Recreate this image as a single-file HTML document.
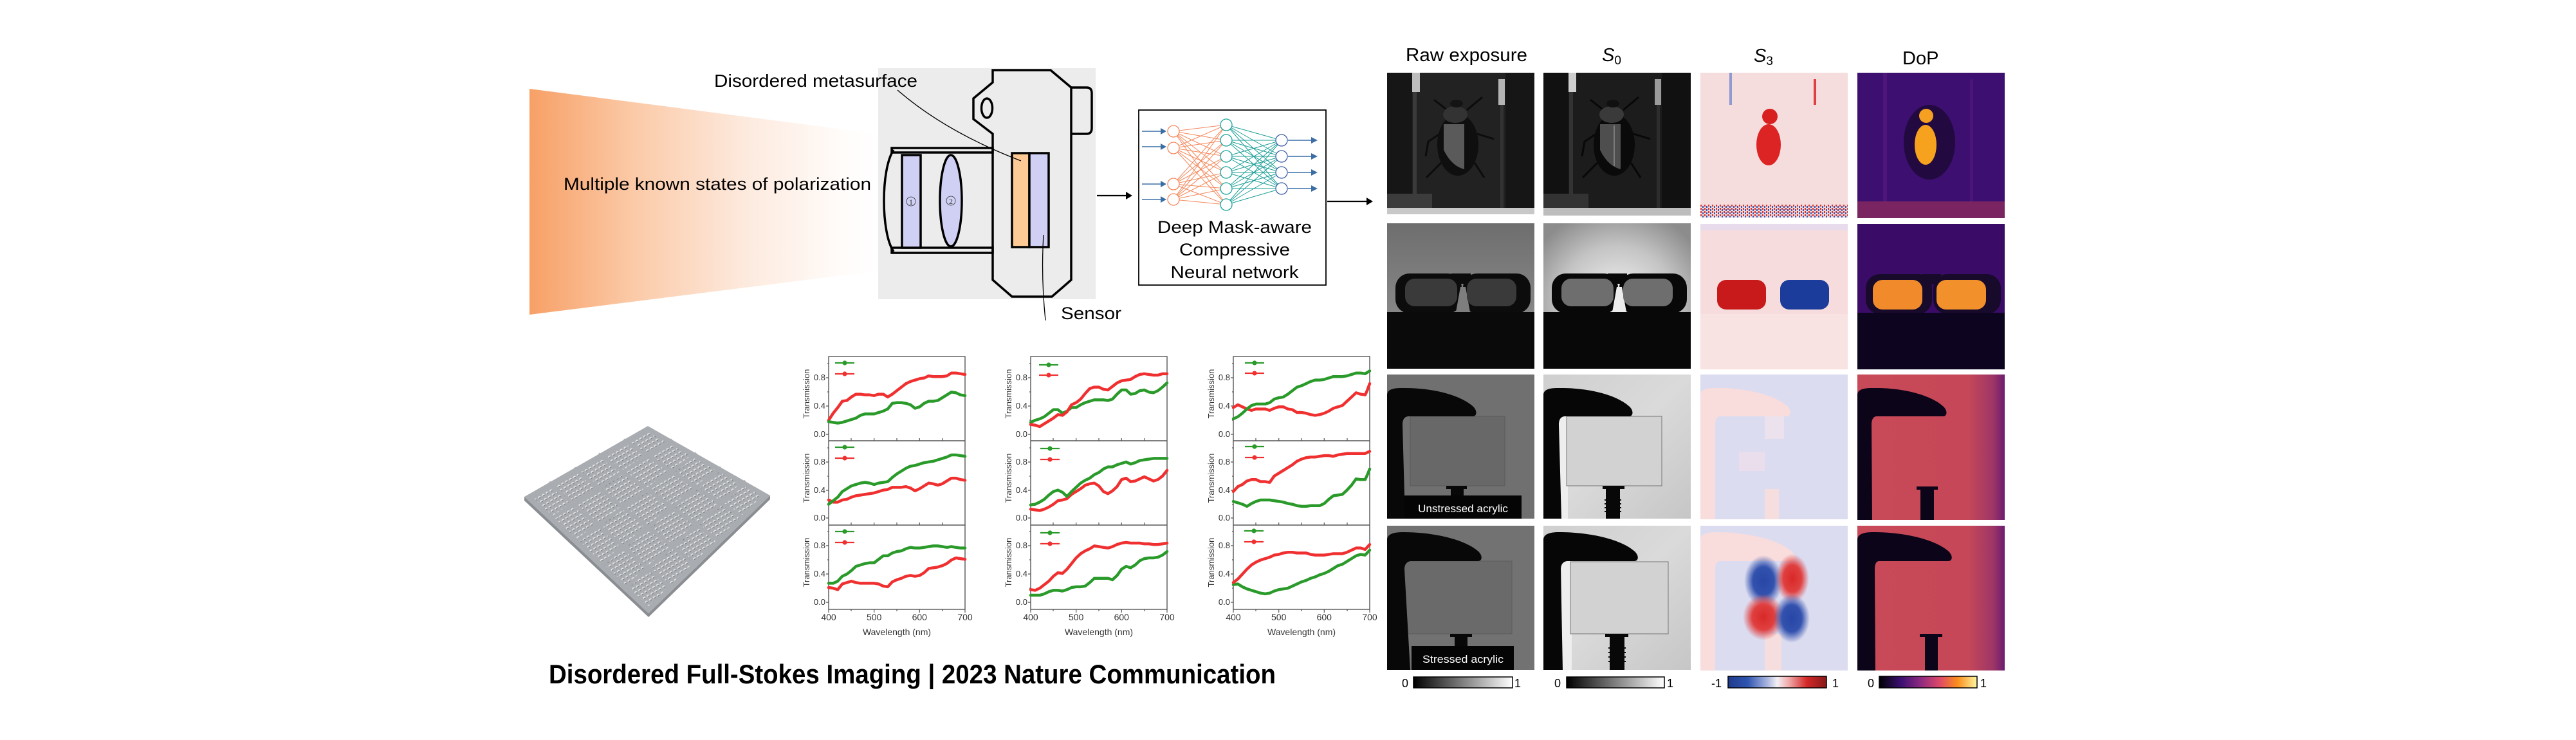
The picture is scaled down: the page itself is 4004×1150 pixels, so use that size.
<!DOCTYPE html>
<html><head><meta charset="utf-8"><style>
html,body{margin:0;padding:0;background:#fff;width:4004px;height:1150px;overflow:hidden}
svg{display:block}
</style></head><body>
<svg width="4004" height="1150" viewBox="0 0 4004 1150" xmlns="http://www.w3.org/2000/svg" font-family="'Liberation Sans', Arial, sans-serif">
<defs>
<linearGradient id="beam" x1="823" y1="0" x2="1365" y2="0" gradientUnits="userSpaceOnUse">
<stop offset="0" stop-color="#f7a066"/><stop offset="0.3" stop-color="#fbcaa8"/><stop offset="0.62" stop-color="#fdeade"/><stop offset="0.9" stop-color="#fffcfa"/><stop offset="1" stop-color="#ffffff"/>
</linearGradient>
<linearGradient id="gray" x1="0" x2="1"><stop offset="0" stop-color="#000"/><stop offset="1" stop-color="#fff"/></linearGradient>
<linearGradient id="bwr" x1="0" x2="1"><stop offset="0" stop-color="#1f3a8c"/><stop offset="0.2" stop-color="#2f55b0"/><stop offset="0.4" stop-color="#aab6e0"/><stop offset="0.5" stop-color="#f4f0f4"/><stop offset="0.62" stop-color="#f0a8a8"/><stop offset="0.8" stop-color="#d42828"/><stop offset="1" stop-color="#861a1a"/></linearGradient>
<linearGradient id="inferno" x1="0" x2="1"><stop offset="0" stop-color="#000004"/><stop offset="0.22" stop-color="#3b0f70"/><stop offset="0.42" stop-color="#8c2981"/><stop offset="0.62" stop-color="#de4968"/><stop offset="0.8" stop-color="#fb8d1c"/><stop offset="1" stop-color="#fcf6a0"/></linearGradient>
<pattern id="dots" width="7" height="7" patternUnits="userSpaceOnUse" patternTransform="rotate(-30)">
<rect width="7" height="7" fill="#a9acb0"/><ellipse cx="3.5" cy="3.3" rx="2.3" ry="1.5" fill="#e4e4e4"/><ellipse cx="3.9" cy="4.4" rx="1.7" ry="0.8" fill="#7c7f83"/>
</pattern>
<pattern id="noiseband" width="6" height="5" patternUnits="userSpaceOnUse">
<rect width="6" height="5" fill="#f1d6d6"/><rect x="0" y="0" width="2" height="3" fill="#d33"/><rect x="3" y="2" width="2" height="3" fill="#3957b5"/>
</pattern>
<radialGradient id="s0glow" cx="115" cy="125" r="150" gradientUnits="userSpaceOnUse"><stop offset="0" stop-color="#f6f6f6"/><stop offset="0.6" stop-color="#c4c4c4"/><stop offset="1" stop-color="#8c8c8c"/></radialGradient>
<linearGradient id="rawg2" x1="0" y1="0" x2="0" y2="1"><stop offset="0" stop-color="#6e6e6e"/><stop offset="0.7" stop-color="#8a8a8a"/><stop offset="1" stop-color="#7a7a7a"/></linearGradient>
<linearGradient id="dopbg" x1="0" y1="0" x2="1" y2="0"><stop offset="0" stop-color="#c84a58"/><stop offset="0.75" stop-color="#c64858"/><stop offset="0.92" stop-color="#9e3666"/><stop offset="1" stop-color="#6c1c70"/></linearGradient>
<linearGradient id="s0bg" x1="0" y1="0" x2="1" y2="1"><stop offset="0" stop-color="#cfcfcf"/><stop offset="0.5" stop-color="#dadada"/><stop offset="1" stop-color="#c6c6c6"/></linearGradient>
<radialGradient id="blob_b"><stop offset="0" stop-color="#2846a6"/><stop offset="0.55" stop-color="#3352ae"/><stop offset="1" stop-color="#3352ae" stop-opacity="0"/></radialGradient>
<radialGradient id="blob_r"><stop offset="0" stop-color="#d82828"/><stop offset="0.55" stop-color="#e04040"/><stop offset="1" stop-color="#e04040" stop-opacity="0"/></radialGradient>
</defs>

<!-- ======= Camera illustration ======= -->
<polygon points="823,138 1365,208 1365,421 823,489" fill="url(#beam)"/>
<rect x="1365" y="106" width="338" height="359" fill="#ececec"/>
<text x="876" y="295" font-size="27" textLength="478" lengthAdjust="spacingAndGlyphs" fill="#000">Multiple known states of polarization</text>
<text x="1110" y="135" font-size="28" textLength="316" lengthAdjust="spacingAndGlyphs" fill="#000">Disordered metasurface</text>
<text x="1649" y="496" font-size="27" textLength="94" lengthAdjust="spacingAndGlyphs" fill="#000">Sensor</text>
<g stroke="#000" stroke-width="3.5" fill="none" stroke-linejoin="miter">
<path d="M1543,109 L1633,109 L1665,136 L1665,435 L1635,461 L1573,461 L1543,435 L1543,208 L1513,185 L1513,153 L1543,128 Z"/>
<ellipse cx="1534" cy="168" rx="8.5" ry="15"/>
<path d="M1665,136 L1689,136 Q1697,136 1697,145 L1697,199 Q1697,208 1689,208 L1665,208"/>
<rect x="1386" y="230" width="157" height="7"/>
<rect x="1386" y="385" width="157" height="8"/>
<path d="M1389,233 C1369,262 1369,362 1389,391"/>
<rect x="1402" y="241" width="29" height="144" fill="#cfd0f4"/>
<ellipse cx="1478" cy="312" rx="17" ry="71" fill="#cfd0f4"/>
<rect x="1573" y="238" width="27" height="146" fill="#fdca95"/>
<rect x="1600" y="238" width="30" height="146" fill="#cfd0f4"/>
</g>
<g stroke="#333" stroke-width="0.8" fill="none"><circle cx="1416" cy="313" r="7"/><circle cx="1478" cy="312" r="7"/></g>
<text x="1416" y="318" font-size="12" text-anchor="middle" font-family="'Liberation Serif',serif" fill="#333">1</text>
<text x="1478" y="317" font-size="12" text-anchor="middle" font-family="'Liberation Serif',serif" fill="#333">2</text>
<path d="M1395,140 Q1470,205 1587,250" stroke="#000" stroke-width="1.3" fill="none"/>
<path d="M1622,365 Q1618,430 1625,498" stroke="#000" stroke-width="1.3" fill="none"/>
<line x1="1705" y1="304" x2="1752" y2="304" stroke="#000" stroke-width="2.2"/>
<polygon points="1750,298 1760,304 1750,310" fill="#000"/>

<!-- ======= Neural network box ======= -->
<rect x="1770" y="171" width="291" height="272" fill="#fff" stroke="#000" stroke-width="1.8"/>
<g stroke="#f4875a" stroke-width="1">
<line x1="1824" y1="204" x2="1906" y2="194"/><line x1="1824" y1="204" x2="1906" y2="218"/><line x1="1824" y1="204" x2="1906" y2="243"/><line x1="1824" y1="204" x2="1906" y2="268"/><line x1="1824" y1="204" x2="1906" y2="293"/><line x1="1824" y1="204" x2="1906" y2="318"/>
<line x1="1824" y1="230" x2="1906" y2="194"/><line x1="1824" y1="230" x2="1906" y2="218"/><line x1="1824" y1="230" x2="1906" y2="243"/><line x1="1824" y1="230" x2="1906" y2="268"/><line x1="1824" y1="230" x2="1906" y2="293"/><line x1="1824" y1="230" x2="1906" y2="318"/>
<line x1="1824" y1="286" x2="1906" y2="194"/><line x1="1824" y1="286" x2="1906" y2="218"/><line x1="1824" y1="286" x2="1906" y2="243"/><line x1="1824" y1="286" x2="1906" y2="268"/><line x1="1824" y1="286" x2="1906" y2="293"/><line x1="1824" y1="286" x2="1906" y2="318"/>
<line x1="1824" y1="310" x2="1906" y2="194"/><line x1="1824" y1="310" x2="1906" y2="218"/><line x1="1824" y1="310" x2="1906" y2="243"/><line x1="1824" y1="310" x2="1906" y2="268"/><line x1="1824" y1="310" x2="1906" y2="293"/><line x1="1824" y1="310" x2="1906" y2="318"/>
</g>
<g stroke="#1a9e96" stroke-width="1">
<line x1="1906" y1="194" x2="1992" y2="218"/><line x1="1906" y1="194" x2="1992" y2="243"/><line x1="1906" y1="194" x2="1992" y2="268"/><line x1="1906" y1="194" x2="1992" y2="293"/>
<line x1="1906" y1="218" x2="1992" y2="218"/><line x1="1906" y1="218" x2="1992" y2="243"/><line x1="1906" y1="218" x2="1992" y2="268"/><line x1="1906" y1="218" x2="1992" y2="293"/>
<line x1="1906" y1="243" x2="1992" y2="218"/><line x1="1906" y1="243" x2="1992" y2="243"/><line x1="1906" y1="243" x2="1992" y2="268"/><line x1="1906" y1="243" x2="1992" y2="293"/>
<line x1="1906" y1="268" x2="1992" y2="218"/><line x1="1906" y1="268" x2="1992" y2="243"/><line x1="1906" y1="268" x2="1992" y2="268"/><line x1="1906" y1="268" x2="1992" y2="293"/>
<line x1="1906" y1="293" x2="1992" y2="218"/><line x1="1906" y1="293" x2="1992" y2="243"/><line x1="1906" y1="293" x2="1992" y2="268"/><line x1="1906" y1="293" x2="1992" y2="293"/>
<line x1="1906" y1="318" x2="1992" y2="218"/><line x1="1906" y1="318" x2="1992" y2="243"/><line x1="1906" y1="318" x2="1992" y2="268"/><line x1="1906" y1="318" x2="1992" y2="293"/>
</g>
<g fill="#fff" stroke-width="1.3">
<g stroke="#f4875a"><circle cx="1824" cy="204" r="9"/><circle cx="1824" cy="230" r="9"/><circle cx="1824" cy="286" r="9"/><circle cx="1824" cy="310" r="9"/></g>
<g stroke="#1aa39a"><circle cx="1906" cy="194" r="9"/><circle cx="1906" cy="218" r="9"/><circle cx="1906" cy="243" r="9"/><circle cx="1906" cy="268" r="9"/><circle cx="1906" cy="293" r="9"/><circle cx="1906" cy="318" r="9"/></g>
<g stroke="#3b5fa5"><circle cx="1992" cy="218" r="9"/><circle cx="1992" cy="243" r="9"/><circle cx="1992" cy="268" r="9"/><circle cx="1992" cy="293" r="9"/></g>
</g>
<g stroke="#3a6ea5" stroke-width="1.6">
<line x1="1775" y1="204" x2="1806" y2="204"/><line x1="1775" y1="228" x2="1806" y2="228"/><line x1="1775" y1="286" x2="1806" y2="286"/><line x1="1775" y1="310" x2="1806" y2="310"/>
<line x1="2002" y1="218" x2="2040" y2="218"/><line x1="2002" y1="243" x2="2040" y2="243"/><line x1="2002" y1="268" x2="2040" y2="268"/><line x1="2002" y1="293" x2="2040" y2="293"/>
</g>
<g fill="#3a6ea5">
<polygon points="1804,199 1813,204 1804,209"/><polygon points="1804,223 1813,228 1804,233"/><polygon points="1804,281 1813,286 1804,291"/><polygon points="1804,305 1813,310 1804,315"/>
<polygon points="2038,213 2048,218 2038,223"/><polygon points="2038,238 2048,243 2038,248"/><polygon points="2038,263 2048,268 2038,273"/><polygon points="2038,288 2048,293 2038,298"/>
</g>
<g font-size="27" fill="#000" text-anchor="middle">
<text x="1919" y="362" textLength="240" lengthAdjust="spacingAndGlyphs">Deep Mask-aware</text>
<text x="1919" y="397" textLength="172" lengthAdjust="spacingAndGlyphs">Compressive</text>
<text x="1919" y="432" textLength="199" lengthAdjust="spacingAndGlyphs">Neural network</text>
</g>
<line x1="2063" y1="313" x2="2126" y2="313" stroke="#000" stroke-width="2.2"/>
<polygon points="2124,307 2134,313 2124,319" fill="#000"/>

<!-- ======= Metasurface ======= -->
<polygon points="815,772 1008,953 1197,770 1197,776 1008,959 815,778" fill="#8a8d91"/>
<polygon points="815,772 1007,662 1197,770 1008,953" fill="#a9acb0"/>
<polygon points="828,773 1007,671 1184,771 1008,942" fill="url(#dots)"/>
<g stroke="#a9acb0" stroke-width="6">
<line x1="853" y1="750" x2="1046" y2="916"/><line x1="892" y1="728" x2="1084" y2="880"/><line x1="930" y1="706" x2="1121" y2="843"/><line x1="969" y1="684" x2="1159" y2="807"/>
<line x1="854" y1="808" x2="1045" y2="684"/><line x1="892" y1="844" x2="1083" y2="705"/><line x1="931" y1="881" x2="1121" y2="727"/><line x1="969" y1="917" x2="1159" y2="748"/>
</g>

<!-- ======= Plots ======= -->
<g id="plots" font-size="13" fill="#333">
<g fill="none" stroke="#555" stroke-width="1.4">
<rect x="1288" y="554" width="212" height="393"/><line x1="1288" y1="685" x2="1500" y2="685"/><line x1="1288" y1="816" x2="1500" y2="816"/>
<rect x="1602" y="554" width="212" height="393"/><line x1="1602" y1="685" x2="1814" y2="685"/><line x1="1602" y1="816" x2="1814" y2="816"/>
<rect x="1917" y="554" width="212" height="393"/><line x1="1917" y1="685" x2="2129" y2="685"/><line x1="1917" y1="816" x2="2129" y2="816"/>
</g>
<g stroke="#555" stroke-width="1.2">
<path d="M1284,675H1288M1284,631H1288M1284,587H1288M1286,653H1288M1286,609H1288M1286,565H1288M1284,805H1288M1284,762H1288M1284,718H1288M1286,784H1288M1286,740H1288M1286,696H1288M1284,936H1288M1284,892H1288M1284,848H1288M1286,914H1288M1286,870H1288M1286,826H1288"/>
<path d="M1598,675H1602M1598,631H1602M1598,587H1602M1600,653H1602M1600,609H1602M1600,565H1602M1598,805H1602M1598,762H1602M1598,718H1602M1600,784H1602M1600,740H1602M1600,696H1602M1598,936H1602M1598,892H1602M1598,848H1602M1600,914H1602M1600,870H1602M1600,826H1602"/>
<path d="M1913,675H1917M1913,631H1917M1913,587H1917M1915,653H1917M1915,609H1917M1915,565H1917M1913,805H1917M1913,762H1917M1913,718H1917M1915,784H1917M1915,740H1917M1915,696H1917M1913,936H1917M1913,892H1917M1913,848H1917M1915,914H1917M1915,870H1917M1915,826H1917"/>
<path d="M1288,947V952M1358.7,947V952M1429.3,947V952M1500,947V952M1323,947V950M1394,947V950M1465,947V950M1323,685V681M1358.7,685V681M1394,685V681M1429.3,685V681M1465,685V681M1323,816V812M1358.7,816V812M1394,816V812M1429.3,816V812M1465,816V812"/>
<path d="M1602,947V952M1672.7,947V952M1743.3,947V952M1814,947V952M1637,947V950M1708,947V950M1779,947V950M1637,685V681M1672.7,685V681M1708,685V681M1743.3,685V681M1779,685V681M1637,816V812M1672.7,816V812M1708,816V812M1743.3,816V812M1779,816V812"/>
<path d="M1917,947V952M1987.7,947V952M2058.3,947V952M2129,947V952M1952,947V950M2023,947V950M2094,947V950M1952,685V681M1987.7,685V681M2023,685V681M2058.3,685V681M2094,685V681M1952,816V812M1987.7,816V812M2023,816V812M2058.3,816V812M2094,816V812"/>
</g>
<g text-anchor="end">
<text x="1283" y="679">0.0</text><text x="1283" y="635">0.4</text><text x="1283" y="591">0.8</text>
<text x="1283" y="809">0.0</text><text x="1283" y="766">0.4</text><text x="1283" y="722">0.8</text>
<text x="1283" y="940">0.0</text><text x="1283" y="896">0.4</text><text x="1283" y="852">0.8</text>
<text x="1597" y="679">0.0</text><text x="1597" y="635">0.4</text><text x="1597" y="591">0.8</text>
<text x="1597" y="809">0.0</text><text x="1597" y="766">0.4</text><text x="1597" y="722">0.8</text>
<text x="1597" y="940">0.0</text><text x="1597" y="896">0.4</text><text x="1597" y="852">0.8</text>
<text x="1912" y="679">0.0</text><text x="1912" y="635">0.4</text><text x="1912" y="591">0.8</text>
<text x="1912" y="809">0.0</text><text x="1912" y="766">0.4</text><text x="1912" y="722">0.8</text>
<text x="1912" y="940">0.0</text><text x="1912" y="896">0.4</text><text x="1912" y="852">0.8</text>
</g>
<g text-anchor="middle">
<text transform="translate(1258,612) rotate(-90)">Transmission</text><text transform="translate(1258,743) rotate(-90)">Transmission</text><text transform="translate(1258,874) rotate(-90)">Transmission</text>
<text transform="translate(1572,612) rotate(-90)">Transmission</text><text transform="translate(1572,743) rotate(-90)">Transmission</text><text transform="translate(1572,874) rotate(-90)">Transmission</text>
<text transform="translate(1887,612) rotate(-90)">Transmission</text><text transform="translate(1887,743) rotate(-90)">Transmission</text><text transform="translate(1887,874) rotate(-90)">Transmission</text>
</g>
<g text-anchor="middle" font-size="14">
<text x="1288" y="964">400</text><text x="1358.7" y="964">500</text><text x="1429.3" y="964">600</text><text x="1500" y="964">700</text>
<text x="1602" y="964">400</text><text x="1672.7" y="964">500</text><text x="1743.3" y="964">600</text><text x="1814" y="964">700</text>
<text x="1917" y="964">400</text><text x="1987.7" y="964">500</text><text x="2058.3" y="964">600</text><text x="2129" y="964">700</text>
<text x="1394" y="987">Wavelength (nm)</text><text x="1708" y="987">Wavelength (nm)</text><text x="2023" y="987">Wavelength (nm)</text>
</g>
<g stroke-width="2.2">
<line x1="1298" y1="564" x2="1328" y2="564" stroke="#2a9a2a"/><line x1="1298" y1="581" x2="1328" y2="581" stroke="#f03030"/>
<line x1="1298" y1="695" x2="1328" y2="695" stroke="#2a9a2a"/><line x1="1298" y1="712" x2="1328" y2="712" stroke="#f03030"/>
<line x1="1298" y1="826" x2="1328" y2="826" stroke="#2a9a2a"/><line x1="1298" y1="843" x2="1328" y2="843" stroke="#f03030"/>
<line x1="1615" y1="567" x2="1645" y2="567" stroke="#2a9a2a"/><line x1="1615" y1="583" x2="1645" y2="583" stroke="#f03030"/>
<line x1="1617" y1="697" x2="1647" y2="697" stroke="#2a9a2a"/><line x1="1617" y1="714" x2="1647" y2="714" stroke="#f03030"/>
<line x1="1617" y1="828" x2="1647" y2="828" stroke="#2a9a2a"/><line x1="1617" y1="845" x2="1647" y2="845" stroke="#f03030"/>
<line x1="1935" y1="564" x2="1965" y2="564" stroke="#2a9a2a"/><line x1="1935" y1="580" x2="1965" y2="580" stroke="#f03030"/>
<line x1="1935" y1="694" x2="1965" y2="694" stroke="#2a9a2a"/><line x1="1935" y1="711" x2="1965" y2="711" stroke="#f03030"/>
<line x1="1934" y1="825" x2="1964" y2="825" stroke="#2a9a2a"/><line x1="1934" y1="842" x2="1964" y2="842" stroke="#f03030"/>
</g>
<g>
<circle cx="1313" cy="564" r="3.6" fill="#2a9a2a"/><circle cx="1313" cy="581" r="3.6" fill="#f03030"/>
<circle cx="1313" cy="695" r="3.6" fill="#2a9a2a"/><circle cx="1313" cy="712" r="3.6" fill="#f03030"/>
<circle cx="1313" cy="826" r="3.6" fill="#2a9a2a"/><circle cx="1313" cy="843" r="3.6" fill="#f03030"/>
<circle cx="1630" cy="567" r="3.6" fill="#2a9a2a"/><circle cx="1630" cy="583" r="3.6" fill="#f03030"/>
<circle cx="1632" cy="697" r="3.6" fill="#2a9a2a"/><circle cx="1632" cy="714" r="3.6" fill="#f03030"/>
<circle cx="1632" cy="828" r="3.6" fill="#2a9a2a"/><circle cx="1632" cy="845" r="3.6" fill="#f03030"/>
<circle cx="1950" cy="564" r="3.6" fill="#2a9a2a"/><circle cx="1950" cy="580" r="3.6" fill="#f03030"/>
<circle cx="1950" cy="694" r="3.6" fill="#2a9a2a"/><circle cx="1950" cy="711" r="3.6" fill="#f03030"/>
<circle cx="1949" cy="825" r="3.6" fill="#2a9a2a"/><circle cx="1949" cy="842" r="3.6" fill="#f03030"/>
</g>
</g>

<g fill="none" stroke-linejoin="round" stroke-linecap="round">
<g transform="translate(1288,675) scale(0.70667,-109.5)">
<polyline vector-effect="non-scaling-stroke" stroke="#f03030" stroke-width="4.5" points="0,.2 10,.3 20,.38 30,.47 40,.48 50,.53 60,.57 70,.57 80,.56 90,.56 100,.55 110,.57 120,.57 130,.53 140,.57 150,.62 160,.67 170,.72 180,.75 190,.77 200,.79 210,.8 220,.83 230,.82 240,.82 250,.82 260,.83 270,.87 280,.87 290,.86 300,.85"/>
<polyline vector-effect="non-scaling-stroke" stroke="#2a9a2a" stroke-width="4.5" points="0,.18 10,.17 20,.16 30,.17 40,.19 50,.21 60,.23 70,.27 80,.29 90,.29 100,.29 110,.31 120,.33 130,.36 140,.44 150,.45 160,.45 170,.44 180,.42 190,.37 200,.39 210,.44 220,.47 230,.47 240,.48 250,.52 260,.56 270,.6 280,.59 290,.56 300,.55"/>
</g>
<g transform="translate(1288,805.5) scale(0.70667,-109.5)">
<polyline vector-effect="non-scaling-stroke" stroke="#f03030" stroke-width="4.5" points="0,.26 10,.23 20,.23 30,.26 40,.27 50,.3 60,.32 70,.33 80,.34 90,.35 100,.36 110,.38 120,.4 130,.41 140,.44 150,.44 160,.44 170,.45 180,.43 190,.39 200,.42 210,.46 220,.5 230,.49 240,.47 250,.49 260,.53 270,.57 280,.57 290,.55 300,.54"/>
<polyline vector-effect="non-scaling-stroke" stroke="#2a9a2a" stroke-width="4.5" points="0,.2 10,.25 20,.3 30,.38 40,.42 50,.46 60,.48 70,.5 80,.51 90,.5 100,.48 110,.5 120,.51 130,.52 140,.58 150,.63 160,.67 170,.71 180,.74 190,.75 200,.77 210,.79 220,.8 230,.81 240,.83 250,.85 260,.87 270,.9 280,.9 290,.89 300,.88"/>
</g>
<g transform="translate(1288,936) scale(0.70667,-109.5)">
<polyline vector-effect="non-scaling-stroke" stroke="#f03030" stroke-width="4.5" points="0,.21 10,.2 20,.18 30,.26 40,.28 50,.3 60,.28 70,.27 80,.27 90,.27 100,.27 110,.26 120,.23 130,.22 140,.29 150,.32 160,.34 170,.37 180,.38 190,.37 200,.38 210,.42 220,.48 230,.49 240,.5 250,.52 260,.55 270,.6 280,.63 290,.62 300,.61"/>
<polyline vector-effect="non-scaling-stroke" stroke="#2a9a2a" stroke-width="4.5" points="0,.27 10,.27 20,.3 30,.37 40,.4 50,.45 60,.51 70,.53 80,.55 90,.56 100,.56 110,.61 120,.66 130,.66 140,.7 150,.72 160,.73 170,.76 180,.78 190,.77 200,.77 210,.78 220,.79 230,.8 240,.8 250,.79 260,.78 270,.79 280,.78 290,.77 300,.77"/>
</g>
<g transform="translate(1602,675) scale(0.70667,-109.5)">
<polyline vector-effect="non-scaling-stroke" stroke="#2a9a2a" stroke-width="4.5" points="0,.17 10,.2 20,.22 30,.25 40,.3 50,.35 60,.35 70,.3 80,.33 90,.38 100,.38 110,.42 120,.45 130,.47 140,.49 150,.49 160,.49 170,.48 180,.5 190,.57 200,.63 210,.63 220,.57 230,.58 240,.62 250,.63 260,.6 270,.59 280,.62 290,.67 300,.73"/>
<polyline vector-effect="non-scaling-stroke" stroke="#f03030" stroke-width="4.5" points="0,.14 10,.13 20,.11 30,.15 40,.19 50,.23 60,.28 70,.27 80,.32 90,.42 100,.45 110,.5 120,.58 130,.65 140,.67 150,.67 160,.64 170,.63 180,.68 190,.73 200,.76 210,.77 220,.78 230,.82 240,.85 250,.86 260,.85 270,.84 280,.84 290,.86 300,.86"/>
</g>
<g transform="translate(1602,805.5) scale(0.70667,-109.5)">
<polyline vector-effect="non-scaling-stroke" stroke="#f03030" stroke-width="4.5" points="0,.13 10,.12 20,.11 30,.13 40,.16 50,.2 60,.25 70,.26 80,.28 90,.34 100,.38 110,.42 120,.47 130,.49 140,.5 150,.46 160,.38 170,.35 180,.39 190,.45 200,.55 210,.57 220,.52 230,.53 240,.56 250,.59 260,.56 270,.53 280,.55 290,.6 300,.68"/>
<polyline vector-effect="non-scaling-stroke" stroke="#2a9a2a" stroke-width="4.5" points="0,.19 10,.2 20,.23 30,.27 40,.33 50,.38 60,.4 70,.37 80,.31 90,.38 100,.44 110,.5 120,.54 130,.57 140,.62 150,.65 160,.7 170,.73 180,.73 190,.76 200,.78 210,.8 220,.77 230,.79 240,.82 250,.83 260,.84 270,.85 280,.85 290,.85 300,.85"/>
</g>
<g transform="translate(1602,936) scale(0.70667,-109.5)">
<polyline vector-effect="non-scaling-stroke" stroke="#2a9a2a" stroke-width="4.5" points="0,.1 10,.1 20,.1 30,.12 40,.15 50,.17 60,.17 70,.16 80,.18 90,.21 100,.22 110,.22 120,.23 130,.28 140,.34 150,.34 160,.34 170,.34 180,.32 190,.38 200,.47 210,.51 220,.49 230,.53 240,.59 250,.62 260,.63 270,.63 280,.64 290,.67 300,.72"/>
<polyline vector-effect="non-scaling-stroke" stroke="#f03030" stroke-width="4.5" points="0,.18 10,.17 20,.2 30,.25 40,.3 50,.37 60,.42 70,.41 80,.47 90,.55 100,.63 110,.69 120,.73 130,.76 140,.8 150,.79 160,.78 170,.77 180,.79 190,.82 200,.84 210,.85 220,.84 230,.84 240,.84 250,.83 260,.83 270,.82 280,.82 290,.83 300,.84"/>
</g>
<g transform="translate(1917,675) scale(0.70667,-109.5)">
<polyline vector-effect="non-scaling-stroke" stroke="#f03030" stroke-width="4.5" points="0,.38 10,.42 20,.39 30,.36 40,.34 50,.36 60,.36 70,.36 80,.34 90,.37 100,.39 110,.39 120,.36 130,.35 140,.31 150,.31 160,.3 170,.28 180,.27 190,.28 200,.3 210,.33 220,.37 230,.39 240,.41 250,.47 260,.53 270,.59 280,.57 290,.56 295,.63 300,.72"/>
<polyline vector-effect="non-scaling-stroke" stroke="#2a9a2a" stroke-width="4.5" points="0,.22 10,.25 20,.3 30,.36 40,.41 50,.43 60,.43 70,.43 80,.45 90,.5 100,.52 110,.53 120,.57 130,.62 140,.67 150,.69 160,.72 170,.75 180,.77 190,.77 200,.78 210,.8 220,.82 230,.82 240,.82 250,.83 260,.85 270,.87 280,.87 290,.86 300,.9"/>
</g>
<g transform="translate(1917,805.5) scale(0.70667,-109.5)">
<polyline vector-effect="non-scaling-stroke" stroke="#2a9a2a" stroke-width="4.5" points="0,.24 10,.22 20,.2 30,.17 40,.21 50,.24 60,.26 70,.26 80,.26 90,.25 100,.24 110,.23 120,.21 130,.2 140,.18 150,.17 160,.17 170,.18 180,.18 190,.18 200,.21 210,.27 220,.32 230,.33 240,.34 250,.4 260,.47 270,.56 280,.55 290,.55 295,.62 300,.7"/>
<polyline vector-effect="non-scaling-stroke" stroke="#f03030" stroke-width="4.5" points="0,.38 10,.45 20,.48 30,.53 40,.55 50,.55 60,.52 70,.52 80,.51 90,.6 100,.64 110,.68 120,.72 130,.76 140,.81 150,.84 160,.86 170,.87 180,.87 190,.88 200,.89 210,.89 220,.88 230,.9 240,.91 250,.92 260,.92 270,.92 280,.92 290,.92 300,.95"/>
</g>
<g transform="translate(1917,936) scale(0.70667,-109.5)">
<polyline vector-effect="non-scaling-stroke" stroke="#2a9a2a" stroke-width="4.5" points="0,.25 10,.26 20,.22 30,.19 40,.17 50,.15 60,.13 70,.12 80,.13 90,.16 100,.18 110,.19 120,.2 130,.23 140,.26 150,.29 160,.31 170,.34 180,.36 190,.39 200,.41 210,.44 220,.48 230,.52 240,.54 250,.58 260,.62 270,.66 280,.68 290,.67 300,.74"/>
<polyline vector-effect="non-scaling-stroke" stroke="#f03030" stroke-width="4.5" points="0,.28 10,.33 20,.4 30,.47 40,.53 50,.57 60,.6 70,.62 80,.64 90,.67 100,.68 110,.7 120,.71 130,.71 140,.7 150,.7 160,.7 170,.68 180,.67 190,.67 200,.67 210,.68 220,.69 230,.69 240,.69 250,.71 260,.74 270,.77 280,.77 290,.75 300,.82"/>
</g>
</g>

<!-- ======= Title ======= -->
<text x="853" y="1062" font-size="42" font-weight="bold" textLength="1130" lengthAdjust="spacingAndGlyphs" fill="#000">Disordered Full-Stokes Imaging | 2023 Nature Communication</text>

<!-- ======= Image grid headers ======= -->
<g font-size="29" fill="#000">
<text x="2185" y="95" textLength="189" lengthAdjust="spacingAndGlyphs">Raw exposure</text>
<text x="2490" y="95"><tspan font-style="italic">S</tspan><tspan font-size="19" dy="5">0</tspan></text>
<text x="2726" y="96"><tspan font-style="italic">S</tspan><tspan font-size="19" dy="5">3</tspan></text>
<text x="2957" y="100">DoP</text>
</g>

<!-- Row 1: beetle -->
<svg x="2156" y="113" width="229" height="220" viewBox="0 0 229 220" preserveAspectRatio="none">
<rect width="229" height="220" fill="#161616"/>
<rect x="39" y="0" width="145" height="210" fill="#222"/>
<rect x="39" y="0" width="12" height="30" fill="#bdbdbd"/><rect x="40" y="30" width="6" height="180" fill="#3a3a3a"/>
<rect x="173" y="10" width="10" height="40" fill="#b5b5b5"/><rect x="176" y="50" width="5" height="160" fill="#333"/>
<rect x="0" y="188" width="70" height="24" fill="#3c3c3c"/>
<rect x="0" y="210" width="229" height="10" fill="#c8c8c8"/>
<g stroke="#0c0c0c" stroke-width="3" fill="none"><path d="M96,60 L73,42"/><path d="M124,58 L148,38"/><path d="M82,95 L64,107 L60,130"/><path d="M140,95 L166,103"/><path d="M84,140 L61,163"/><path d="M136,140 L151,163"/></g>
<ellipse cx="110" cy="112" rx="32" ry="48" fill="#0f0f0f"/>
<ellipse cx="106" cy="65" rx="19" ry="13" fill="#333"/>
<ellipse cx="108" cy="48" rx="10" ry="6" fill="#141414"/>
<path d="M88,80 L120,80 L120,150 Q100,145 88,120 Z" fill="#5a5a5a"/>
</svg>
<svg x="2399" y="113" width="229" height="222" viewBox="0 0 229 222" preserveAspectRatio="none">
<rect width="229" height="222" fill="#111"/>
<rect x="39" y="0" width="145" height="210" fill="#1c1c1c"/>
<rect x="39" y="0" width="12" height="30" fill="#cfcfcf"/><rect x="40" y="30" width="6" height="180" fill="#333"/>
<rect x="173" y="10" width="10" height="40" fill="#9a9a9a"/><rect x="176" y="50" width="5" height="160" fill="#2d2d2d"/>
<rect x="0" y="188" width="70" height="24" fill="#333"/>
<rect x="0" y="210" width="229" height="12" fill="#bdbdbd"/>
<g stroke="#080808" stroke-width="3" fill="none"><path d="M96,60 L73,42"/><path d="M124,58 L148,38"/><path d="M82,95 L64,107 L60,130"/><path d="M140,95 L166,103"/><path d="M84,140 L61,163"/><path d="M136,140 L151,163"/></g>
<ellipse cx="110" cy="112" rx="32" ry="48" fill="#0a0a0a"/>
<ellipse cx="106" cy="65" rx="19" ry="13" fill="#3a3a3a"/>
<ellipse cx="108" cy="48" rx="10" ry="6" fill="#101010"/>
<path d="M88,80 L120,80 L120,150 Q100,145 88,120 Z" fill="#4e4e4e"/>
<line x1="110" y1="82" x2="110" y2="145" stroke="#8a8a8a" stroke-width="1.5"/>
</svg>
<svg x="2643" y="113" width="229" height="225" viewBox="0 0 229 225" preserveAspectRatio="none">
<rect width="229" height="225" fill="#f6dddd"/>
<rect x="45" y="0" width="4" height="50" fill="#8e9ad0"/><rect x="176" y="10" width="4" height="40" fill="#e04040"/>
<circle cx="108" cy="68" r="12" fill="#d82020"/>
<ellipse cx="106" cy="112" rx="19" ry="32" fill="#dd2424"/>
<rect x="0" y="205" width="229" height="20" fill="url(#noiseband)"/>
</svg>
<svg x="2887" y="113" width="229" height="226" viewBox="0 0 229 226" preserveAspectRatio="none">
<rect width="229" height="226" fill="#3c0f70"/>
<rect x="40" y="0" width="6" height="200" fill="#4e1678"/><rect x="175" y="10" width="5" height="190" fill="#4a1478"/>
<ellipse cx="112" cy="108" rx="40" ry="58" fill="#220a40"/>
<circle cx="107" cy="67" r="11" fill="#f5a020"/>
<ellipse cx="106" cy="112" rx="17" ry="31" fill="#f7a21e"/>
<rect x="0" y="200" width="229" height="26" fill="#7a2562"/>
</svg>

<!-- Row 2: glasses -->
<svg x="2156" y="347" width="229" height="226" viewBox="0 0 229 226" preserveAspectRatio="none">
<rect width="229" height="226" fill="url(#rawg2)"/>
<rect x="13" y="78" width="103" height="62" rx="22" fill="#0c0c0c"/><rect x="118" y="78" width="105" height="62" rx="22" fill="#0c0c0c"/><rect x="100" y="78" width="30" height="16" fill="#0c0c0c"/>
<path d="M107,138 L114,99 L122,99 L129,138 Z" fill="#7e7e7e"/>
<rect x="28" y="86" width="81" height="43" rx="15" fill="#3a3a3a"/><rect x="124" y="86" width="77" height="43" rx="15" fill="#3a3a3a"/>
<rect x="0" y="138" width="229" height="88" fill="#0a0a0a"/>
</svg>
<svg x="2399" y="347" width="229" height="226" viewBox="0 0 229 226" preserveAspectRatio="none">
<rect width="229" height="226" fill="url(#s0glow)"/>
<rect x="13" y="78" width="103" height="62" rx="22" fill="#080808"/><rect x="118" y="78" width="105" height="62" rx="22" fill="#080808"/><rect x="100" y="78" width="30" height="16" fill="#080808"/>
<path d="M107,138 L114,99 L122,99 L129,138 Z" fill="#ececec"/>
<rect x="28" y="86" width="81" height="43" rx="15" fill="#6e6e6e"/><rect x="124" y="86" width="77" height="43" rx="15" fill="#6e6e6e"/>
<rect x="0" y="138" width="229" height="88" fill="#080808"/>
</svg>
<svg x="2643" y="348" width="229" height="226" viewBox="0 0 229 226" preserveAspectRatio="none">
<rect width="229" height="226" fill="#f6dcdc"/>
<rect x="0" y="0" width="229" height="10" fill="#e8dcec"/>
<rect x="26" y="87" width="76" height="46" rx="14" fill="#c81a1a"/>
<rect x="124" y="87" width="76" height="46" rx="14" fill="#1c3c9c"/>
<rect x="0" y="140" width="229" height="86" fill="#f8e2e2"/>
</svg>
<svg x="2887" y="348" width="229" height="226" viewBox="0 0 229 226" preserveAspectRatio="none">
<rect width="229" height="226" fill="#3a0c68"/>
<rect x="13" y="78" width="103" height="62" rx="22" fill="#170a2a"/><rect x="118" y="78" width="105" height="62" rx="22" fill="#170a2a"/><rect x="100" y="78" width="30" height="16" fill="#170a2a"/>
<rect x="24" y="87" width="77" height="46" rx="15" fill="#f08a2a"/><rect x="123" y="87" width="77" height="46" rx="15" fill="#f2902c"/>
<rect x="0" y="138" width="229" height="88" fill="#0d0520"/>
</svg>

<!-- Row 3: clamp unstressed -->
<svg x="2156" y="582" width="229" height="224" viewBox="0 0 229 224" preserveAspectRatio="none">
<rect width="229" height="224" fill="#707070"/>
<rect x="36" y="65" width="147" height="108" fill="#686868" stroke="#5a5a5a" stroke-width="1"/>
<path d="M0,224 L0,32 C0,24 8,21 22,21 C70,20 115,32 134,50 C140,56 140,64 134,65 L34,65 C27,65 24,70 24,78 L28,224 Z" fill="#080808"/>
<rect x="92" y="173" width="32" height="5" fill="#080808"/><rect x="99" y="178" width="20" height="12" fill="#080808"/>
<rect x="27" y="188" width="182" height="36" fill="#050505"/>
<text x="118" y="214" font-size="17" fill="#fff" text-anchor="middle" textLength="140" lengthAdjust="spacingAndGlyphs">Unstressed acrylic</text>
</svg>
<svg x="2399" y="582" width="229" height="224" viewBox="0 0 229 224" preserveAspectRatio="none">
<rect width="229" height="224" fill="url(#s0bg)"/>
<rect x="24" y="65" width="14" height="159" fill="#eeeeee"/>
<rect x="36" y="65" width="148" height="108" fill="#d2d2d2" stroke="#777" stroke-width="1"/>
<path d="M0,224 L0,32 C0,24 8,21 22,21 C70,20 115,32 134,50 C140,56 140,64 134,65 L34,65 C27,65 24,70 24,78 L28,224 Z" fill="#060606"/>
<rect x="92" y="173" width="34" height="5" fill="#080808"/><rect x="97" y="178" width="22" height="46" fill="#080808"/>
<g stroke="#080808" stroke-width="2"><line x1="95" y1="195" x2="121" y2="195"/><line x1="95" y1="201" x2="121" y2="201"/><line x1="95" y1="207" x2="121" y2="207"/><line x1="95" y1="213" x2="121" y2="213"/></g>
</svg>
<svg x="2643" y="582" width="229" height="225" viewBox="0 0 229 225" preserveAspectRatio="none">
<rect width="229" height="225" fill="#dcdcf0"/>
<rect x="100" y="60" width="30" height="40" fill="#ece2ee"/><rect x="60" y="120" width="40" height="30" fill="#eadeec"/>
<path d="M0,225 L0,32 C0,24 8,21 22,21 C70,20 118,32 136,50 C141,56 141,64 136,65 L30,65 C26,65 23,70 23,78 L23,225 Z" fill="#f9dcdc"/>
<rect x="100" y="178" width="22" height="47" fill="#f6dede"/>
</svg>
<svg x="2887" y="582" width="229" height="226" viewBox="0 0 229 226" preserveAspectRatio="none">
<rect width="229" height="226" fill="url(#dopbg)"/>
<path d="M0,226 L0,32 C0,24 8,21 22,21 C70,20 115,32 134,50 C140,56 140,64 134,65 L30,65 C25,65 22,70 22,78 L23,226 Z" fill="#0c0418"/>
<rect x="92" y="174" width="33" height="5" fill="#0c0418"/><rect x="98" y="179" width="21" height="47" fill="#0c0418"/>
</svg>

<!-- Row 4: clamp stressed -->
<svg x="2156" y="817" width="229" height="224" viewBox="0 0 229 224" preserveAspectRatio="none">
<rect width="229" height="224" fill="#727272"/>
<rect x="27" y="55" width="167" height="113" fill="#6a6a6a" stroke="#5c5c5c" stroke-width="1"/>
<path d="M0,224 L0,22 C0,14 8,10 24,10 C75,10 122,22 142,40 C149,47 148,55 141,55 L38,55 C31,55 27,60 27,68 L36,224 Z" fill="#080808"/>
<rect x="98" y="168" width="34" height="5" fill="#080808"/><rect x="105" y="173" width="20" height="15" fill="#080808"/>
<rect x="38" y="187" width="159" height="37" fill="#050505"/>
<text x="118" y="213" font-size="17" fill="#fff" text-anchor="middle" textLength="126" lengthAdjust="spacingAndGlyphs">Stressed  acrylic</text>
</svg>
<svg x="2399" y="817" width="229" height="224" viewBox="0 0 229 224" preserveAspectRatio="none">
<rect width="229" height="224" fill="url(#s0bg)"/>
<rect x="28" y="55" width="16" height="169" fill="#eeeeee"/>
<rect x="42" y="56" width="152" height="112" fill="#d2d2d2" stroke="#777" stroke-width="1"/>
<path d="M0,224 L0,22 C0,14 8,10 24,10 C75,10 122,22 142,40 C149,47 148,55 141,55 L38,55 C31,55 27,60 27,68 L30,224 Z" fill="#060606"/>
<rect x="96" y="168" width="36" height="5" fill="#080808"/><rect x="103" y="173" width="23" height="51" fill="#080808"/>
<g stroke="#080808" stroke-width="2"><line x1="101" y1="190" x2="128" y2="190"/><line x1="101" y1="197" x2="128" y2="197"/><line x1="101" y1="204" x2="128" y2="204"/><line x1="101" y1="211" x2="128" y2="211"/></g>
</svg>
<svg x="2643" y="817" width="229" height="225" viewBox="0 0 229 225" preserveAspectRatio="none">
<rect width="229" height="225" fill="#dcdcf0"/>
<path d="M0,225 L0,22 C0,14 8,10 24,10 C75,10 122,22 142,40 C149,47 148,55 141,55 L30,55 C25,55 23,60 23,68 L23,225 Z" fill="#f9dcdc"/>
<rect x="100" y="168" width="26" height="57" fill="#f6dede"/>
<ellipse cx="98" cy="86" rx="30" ry="40" fill="url(#blob_b)"/>
<ellipse cx="143" cy="82" rx="26" ry="38" fill="url(#blob_r)"/>
<ellipse cx="98" cy="142" rx="32" ry="36" fill="url(#blob_r)"/>
<ellipse cx="142" cy="144" rx="28" ry="38" fill="url(#blob_b)"/>
</svg>
<svg x="2887" y="817" width="229" height="225" viewBox="0 0 229 225" preserveAspectRatio="none">
<rect width="229" height="225" fill="url(#dopbg)"/>
<path d="M0,225 L0,22 C0,14 8,10 24,10 C75,10 122,22 142,40 C149,47 148,55 141,55 L34,55 C29,55 27,60 27,68 L28,225 Z" fill="#0c0418"/>
<rect x="97" y="168" width="35" height="5" fill="#0c0418"/><rect x="105" y="173" width="20" height="52" fill="#0c0418"/>
</svg>

<!-- Colorbars -->
<g stroke="#000" stroke-width="1.5">
<rect x="2197" y="1052" width="154" height="17" fill="url(#gray)"/>
<rect x="2435" y="1052" width="152" height="17" fill="url(#gray)"/>
<rect x="2686" y="1051" width="153" height="18" fill="url(#bwr)"/>
<rect x="2921" y="1051" width="152" height="18" fill="url(#inferno)"/>
</g>
<g font-size="18" fill="#000" text-anchor="middle">
<text x="2184" y="1068">0</text><text x="2359" y="1068">1</text>
<text x="2421" y="1068">0</text><text x="2596" y="1068">1</text>
<text x="2668" y="1068">-1</text><text x="2853" y="1068">1</text>
<text x="2908" y="1068">0</text><text x="3083" y="1068">1</text>
</g>
</svg>
</body></html>
